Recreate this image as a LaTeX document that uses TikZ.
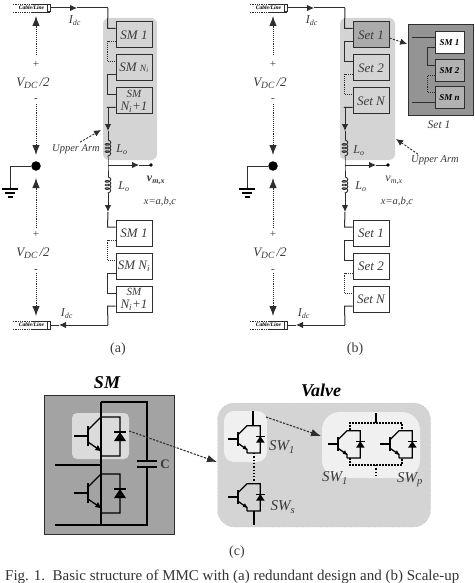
\documentclass[tikz,border=0pt]{standalone}
\usepackage{fontspec}
\setmainfont{Liberation Serif}
\usetikzlibrary{arrows.meta,decorations.pathmorphing,calc}
\definecolor{ink}{HTML}{2E2E2E}
\definecolor{txt}{HTML}{3A3A3A}
\tikzset{
  wire/.style={draw=ink,line width=1pt},
  dotw/.style={draw=ink,line width=0.9pt,dash pattern=on 1pt off 0.9pt},
  dashw/.style={draw=ink,line width=0.9pt,dash pattern=on 2.2pt off 1.4pt},
  hd/.style={-{Latex[length=7pt,width=6.5pt]}},
  bighd/.style={-{Latex[length=10pt,width=7.5pt]}},
  armbg/.style={fill=black!17,rounded corners=6pt},
  smbox/.style={draw=ink,line width=1pt,minimum width=36pt,minimum height=26pt,inner sep=0pt,align=center,
     font=\fontsize{13}{13}\selectfont\itshape,text=txt},
  lab/.style={inner sep=0pt,text=txt,font=\fontsize{12}{12}\selectfont\itshape},
  biglab/.style={inner sep=0pt,text=txt,font=\fontsize{13}{13}\selectfont\itshape},
  captext/.style={inner sep=0pt,text=txt,font=\fontsize{14}{14}\selectfont},
  armlab/.style={inner sep=0pt,text=txt,font=\fontsize{10.5}{10.5}\selectfont\itshape},
  xlab/.style={inner sep=0pt,text=txt,font=\fontsize{10.5}{10.5}\selectfont\itshape},
  pmlab/.style={inner sep=0pt,text=txt,font=\fontsize{11}{11}\selectfont},
  cable/.style={fill=white,minimum width=37pt,minimum height=7.5pt,inner sep=0pt,
     font=\fontsize{5.5}{5.5}\selectfont\bfseries\itshape},
  coil/.style={draw=ink,line width=0.9pt,decorate,decoration={coil,aspect=0.6,amplitude=2.8pt,segment length=3.6pt}},
  igbt/.pic={
    \draw[line width=1.3pt,draw=black] (-27,0) -- (-13,0);
    \draw[line width=1.7pt,draw=black] (-13,-10) -- (-13,10);
    \draw[line width=1.3pt,draw=black] (-13,-6) -- (0,-19) -- (19,-19) -- (19,20) -- (0,20) (-13,6) -- (0,15) -- (0,20);
    \fill[black] (0,15) -- (-6,14) -- (-3,9) -- cycle;
    \fill[black] (13,5) -- (25,5) -- (19,-4) -- cycle;
    \draw[line width=1.3pt,draw=black] (13,-4) -- (25,-4);
  }
}
\newcommand{\cablebody}[1]{%
  \draw[line width=0.6pt,draw=ink,dash pattern=on 1pt off 0.8pt] (#1.north west) -- (#1.north) (#1.south west) -- (#1.south);
  \draw[line width=0.7pt,draw=ink] (#1.north) -- (#1.north east) (#1.south) -- (#1.south east);
  \draw[line width=0.9pt,draw=ink] ($(#1.north east)+(-2.5,0)$) rectangle ($(#1.south east)+(0.5,0)$);
}
\newcommand{\dcarrows}[2]{% #1 x of voltage column, #2 prefix
  \coordinate (#2vt) at (#1,16);
  \coordinate (#2vu) at (#1,55);
  \coordinate (#2vd) at (#1,104);
  \coordinate (#2vm) at (#1,155);
  \coordinate (#2wu) at (#1,178);
  \coordinate (#2wv) at (#1,228);
  \coordinate (#2wd) at (#1,273);
  \coordinate (#2wb) at (#1,316);
  \draw[dotw,bighd] (#2vu) -- (#2vt);
  \draw[dotw,bighd] (#2vd) -- (#2vm);
  \draw[dotw,bighd] (#2wv) -- (#2wu);
  \draw[dotw,bighd] (#2wd) -- (#2wb);
  \node[pmlab] (#2pa) at (#1,64) {+};
  \node[pmlab] (#2ma) at (#1,100) {-};
  \node[pmlab] (#2pb) at (#1,234) {+};
  \node[pmlab] (#2mb) at (#1,271) {-};
  \node[biglab] (#2va) at ($(#1,83)+(-3,0)$) {V\raisebox{-2pt}{\fontsize{9.5}{9.5}\selectfont DC}\,/2};
  \node[biglab] (#2vb) at ($(#1,253)+(-3,0)$) {V\raisebox{-2pt}{\fontsize{9.5}{9.5}\selectfont DC}\,/2};
  \node[circle,fill=black,minimum size=9.5pt,inner sep=0pt] (#2mid) at (#1,166) {};
  \coordinate (#2g) at ($(#1,188)+(-26,0)$);
  \draw[wire] (#2mid) -| (#2g);
  \draw[line width=1.1pt,draw=black] ($(#2g)+(-8,1)$) -- ($(#2g)+(8,1)$) ($(#2g)+(-5,5)$) -- ($(#2g)+(5,5)$) ($(#2g)+(-2.5,9)$) -- ($(#2g)+(2.5,9)$);
}
\newcommand{\armwires}[2]{% #1 x of spine, #2 prefix
  \node[cable] (#2ca) at ($(#1,8)+(-76.5,0)$) {Cable/Line};
  \node[cable] (#2cb) at ($(#1,325)+(-76.5,0)$) {Cable/Line};
  \cablebody{#2ca}
  \cablebody{#2cb}
  \coordinate (#2sa) at (#1,8);
  \coordinate (#2ah) at ($(#1,8)+(-31,0)$);
  \draw[wire,hd] (#2ca) -- (#2ah);
  \draw[wire] (#2ah) -- (#2sa);
  \coordinate (#2cu) at (#1,131);
  \coordinate (#2i1) at (#1,140);
  \coordinate (#2i2) at (#1,157);
  \coordinate (#2j) at (#1,165);
  \coordinate (#2i3) at (#1,177);
  \coordinate (#2i4) at (#1,193);
  \coordinate (#2cd) at (#1,212);
  \coordinate (#2sb) at (#1,325);
  \coordinate (#2bh) at ($(#1,325)+(-49,0)$);
  \coordinate (#2vm) at ($(#1,165)+(43,0)$);
  \coordinate (#2vh) at ($(#1,165)+(31,0)$);
  \draw[wire] (#2cu) -- (#2i1);
  \draw[coil] (#2i1) -- (#2i2);
  \draw[wire] (#2i2) -- (#2j) -- (#2i3);
  \draw[coil] (#2i3) -- (#2i4);
  \draw[wire,hd] (#2i4) -- (#2cd);
  \draw[wire,hd] (#2j) -- (#2vh);
  \draw[wire] (#2vh) -- (#2vm);
  \fill[black] (#2vm) circle (1.8pt);
  \draw[wire,hd] (#2sb) -- (#2bh);
  \draw[wire] (#2bh) -- (#2cb);
  \draw[wire,hd] (#1,107) -- (#2cu);
}
\newcommand{\chain}[9]{% #1 spine x, #2 first-link style, #3 second-link style, #4 prefix, #5 y offset, #6..#8 boxes text, #9 top-entry y
  \node[smbox] (#4a) at ($(#1,35+#5)+(26,0)$) {#6};
  \node[smbox] (#4b) at ($(#1,68+#5)+(26,0)$) {#7};
  \node[smbox] (#4c) at ($(#1,101+#5)+(26,0)$) {#8};
  \draw[wire] ($(#4a.west)+(0,-6.5)$) -- ++(-8,0) -- (#1,#9);
  \draw[#2] ($(#4a.west)+(0,6.5)$) -- ++(-8,0) |- ($(#4b.west)+(0,-6.5)$);
  \draw[#3] ($(#4b.west)+(0,6.5)$) -- ++(-8,0) |- ($(#4c.west)+(0,-6.5)$);
}
\begin{document}
\begin{tikzpicture}[x=1pt,y=-1pt]
\useasboundingbox (0,0) rectangle (474,583);
% ---------- (a) ----------
\fill[armbg] (103,18) rectangle (157,160);
\dcarrows{36}{la}
\armwires{108}{lb}
\chain{108}{dotw}{wire}{lu}{0}{SM 1}{SM \fontsize{9.5}{9.5}\selectfont N\textsubscript{i}}{\fontsize{11}{11.5}\selectfont SM\\N\textsubscript{i}+1}{8}
\draw[wire] ($(luc.west)+(0,6.5)$) -- ++(-8,0) -- (108,107);
\chain{108}{dotw}{wire}{ll}{198.5}{SM 1}{SM N\textsubscript{i}}{\fontsize{11}{11.5}\selectfont SM\\N\textsubscript{i}+1}{212}
\draw[wire] ($(llc.west)+(0,6.5)$) -- ++(-8,0) -- (lbsb);
\node[lab] (lia) at (75,21) {I\textsubscript{dc}};
\node[lab] (lib) at (67,314) {I\textsubscript{dc}};
\node[armlab] (lua) at (76,149) {Upper Arm};
\coordinate (luh) at (101,130);
\draw[dashw,hd] ($(lua.north)+(4,-2)$) -- (luh);
\node[lab] (lla) at (122,150) {L\textsubscript{o}};
\node[lab] (llb) at (124,187) {L\textsubscript{o}};
\node[lab,font=\fontsize{12}{12}\selectfont\bfseries\itshape] (lv) at (156,180) {v\textsubscript{m,x}};
\node[xlab] (lx) at (160,202) {x=a,b,c};
\node[captext] (capa) at (118,349) {(a)};
% ---------- (b) ----------
\fill[armbg] (340,18) rectangle (395,160);
\dcarrows{273}{ra}
\armwires{345}{rb}
\chain{345}{wire}{dotw}{ru}{0}{Set 1}{Set 2}{Set N}{8}
\node[smbox,fill=black!33] (rua2) at (rua) {Set 1};
\draw[wire] ($(ruc.west)+(0,6.5)$) -- ++(-8,0) -- (345,107);
\chain{345}{wire}{dotw}{rl}{198.5}{Set 1}{Set 2}{Set N}{212}
\draw[wire] ($(rlc.west)+(0,6.5)$) -- ++(-8,0) -- (rbsb);
\node[lab] (ria) at (312,21) {I\textsubscript{dc}};
\node[lab] (rib) at (304,314) {I\textsubscript{dc}};
\node[armlab] (rarm) at (435,160) {Upper Arm};
\coordinate (ruh) at (396,139);
\draw[dashw,hd] ($(rarm.north)+(-17,-1)$) -- (ruh);
\node[lab] (rla) at (359,151) {L\textsubscript{o}};
\node[lab] (rlb) at (361,187) {L\textsubscript{o}};
\node[lab] (rv) at (394,180) {v\textsubscript{m,x}};
\node[xlab] (rx) at (397,202) {x=a,b,c};
\node[captext] (capb) at (355,349) {(b)};
% inset
\node[draw=ink,line width=0.8pt,fill=black!42,minimum width=65pt,minimum height=91pt,inner sep=0pt] (ins) at (441,69.5) {};
\tikzset{inbox/.style={draw=ink,line width=1pt,minimum width=29pt,minimum height=22pt,inner sep=0pt,
   font=\fontsize{9}{9}\selectfont\bfseries\itshape,text=black}}
\node[inbox,fill=white] (sa) at (449.5,43) {SM 1};
\node[inbox,fill=black!30] (sb) at (449.5,70.5) {SM 2};
\node[inbox,fill=black!30] (sc) at (449.5,97.5) {SM n};
\coordinate (ia) at (412,38);
\coordinate (ib) at (412,103);
\draw[wire] (ia) -- (ia-|sa.west);
\draw[wire] (ib) -- (ib-|sc.west);
\draw[wire] ($(sa.west)+(0,5)$) -- ++(-7,0) |- ($(sb.west)+(0,-5)$);
\draw[dotw] ($(sb.west)+(0,5)$) -- ++(-7,0) |- ($(sc.west)+(0,-5)$);
\node[lab,font=\fontsize{11.5}{11.5}\selectfont\itshape] (sl) at (439,125) {Set 1};
\draw[dashw,hd] ($(rua2.east)+(0,3)$) -- ($(ins.west)+(-1,-25.5)$);
% ---------- (c) SM ----------
\node[inner sep=0pt,font=\fontsize{18}{18}\selectfont\bfseries\itshape,text=black] (smt) at (107,383) {SM};
\node[draw=ink,line width=0.8pt,fill=black!36,minimum width=130pt,minimum height=139pt,inner sep=0pt] (smo) at (109,464.5) {};
\node[fill=black!14,rounded corners=5pt,minimum width=57pt,minimum height=46pt,inner sep=0pt] (sml) at (100.5,436) {};
\draw[line width=1.4pt,draw=black] (101,402) -- (147,402) -- (147,461) (147,467) -- (147,525) -- (55,525) (55,465) -- (101,465) (101,402) -- (101,525);
\draw[line width=1.6pt,draw=black] (137,461) -- (157,461) (137,467) -- (157,467);
\node[inner sep=0pt,text=txt,font=\fontsize{13}{13}\selectfont\bfseries] (capc) at (165,464) {C};
\pic at (101,436) {igbt};
\pic at (101,493) {igbt};
% ---------- (c) Valve ----------
\node[inner sep=0pt,font=\fontsize{18}{18}\selectfont\bfseries\itshape,text=black] (vat) at (321,390) {Valve};
\node[draw=black!45,dotted,fill=black!17,rounded corners=17pt,minimum width=213pt,minimum height=124pt,inner sep=0pt] (vao) at (324,465) {};
\node[fill=black!6,rounded corners=10pt,minimum width=43pt,minimum height=51pt,inner sep=0pt] (vl1) at (245.5,436.5) {};
\node[fill=black!6,rounded corners=18pt,minimum width=98pt,minimum height=66pt,inner sep=0pt] (vl2) at (371,445) {};
\draw[dashw,bighd,line width=1.1pt] ($(sml.east)+(0,-5)$) -- (217,462);
\draw[dashw,bighd,line width=1.1pt] (266,417) -- (321,436);
\pic[scale=0.7] at (247,439) {igbt};
\pic[scale=0.7] at (247,497) {igbt};
\pic[scale=0.7] at (347,444) {igbt};
\pic[scale=0.7] at (399,444) {igbt};
\draw[line width=1.3pt,draw=black] (253,411) -- (253,425.7);
\draw[line width=1.3pt,draw=black] (254,511) -- (254,525);
\draw[line width=1.3pt,dotted,draw=black] (254,453) -- (254,483);
\draw[line width=1.1pt,dash pattern=on 2pt off 1pt,draw=black] (350,430) -- (350,423) -- (402,423) -- (402,430);
\draw[line width=1.1pt,dash pattern=on 2pt off 1pt,draw=black] (350,458) -- (350,465) -- (402,465) -- (402,458);
\draw[line width=1.3pt,draw=black] (376,413) -- (376,423);
\draw[line width=1.3pt,dotted,draw=black] (376,465) -- (376,477);
\tikzset{swl/.style={inner sep=0pt,text=txt,font=\fontsize{15}{15}\selectfont\itshape}}
\node[swl] (sw1a) at (282,447) {SW\textsubscript{1}};
\node[swl] (swsa) at (283,507) {SW\textsubscript{s}};
\node[swl] (sw1b) at (335,478) {SW\textsubscript{1}};
\node[swl] (swpb) at (410,480) {SW\textsubscript{p}};
\node[captext] (capd) at (237,552) {(c)};
\node[inner sep=0pt,anchor=west,text=black!80,font=\fontsize{15}{15}\selectfont] (fig) at (5,577) {Fig. 1.\ \ Basic structure of MMC with (a) redundant design and (b) Scale-up};
\end{tikzpicture}
\end{document}
